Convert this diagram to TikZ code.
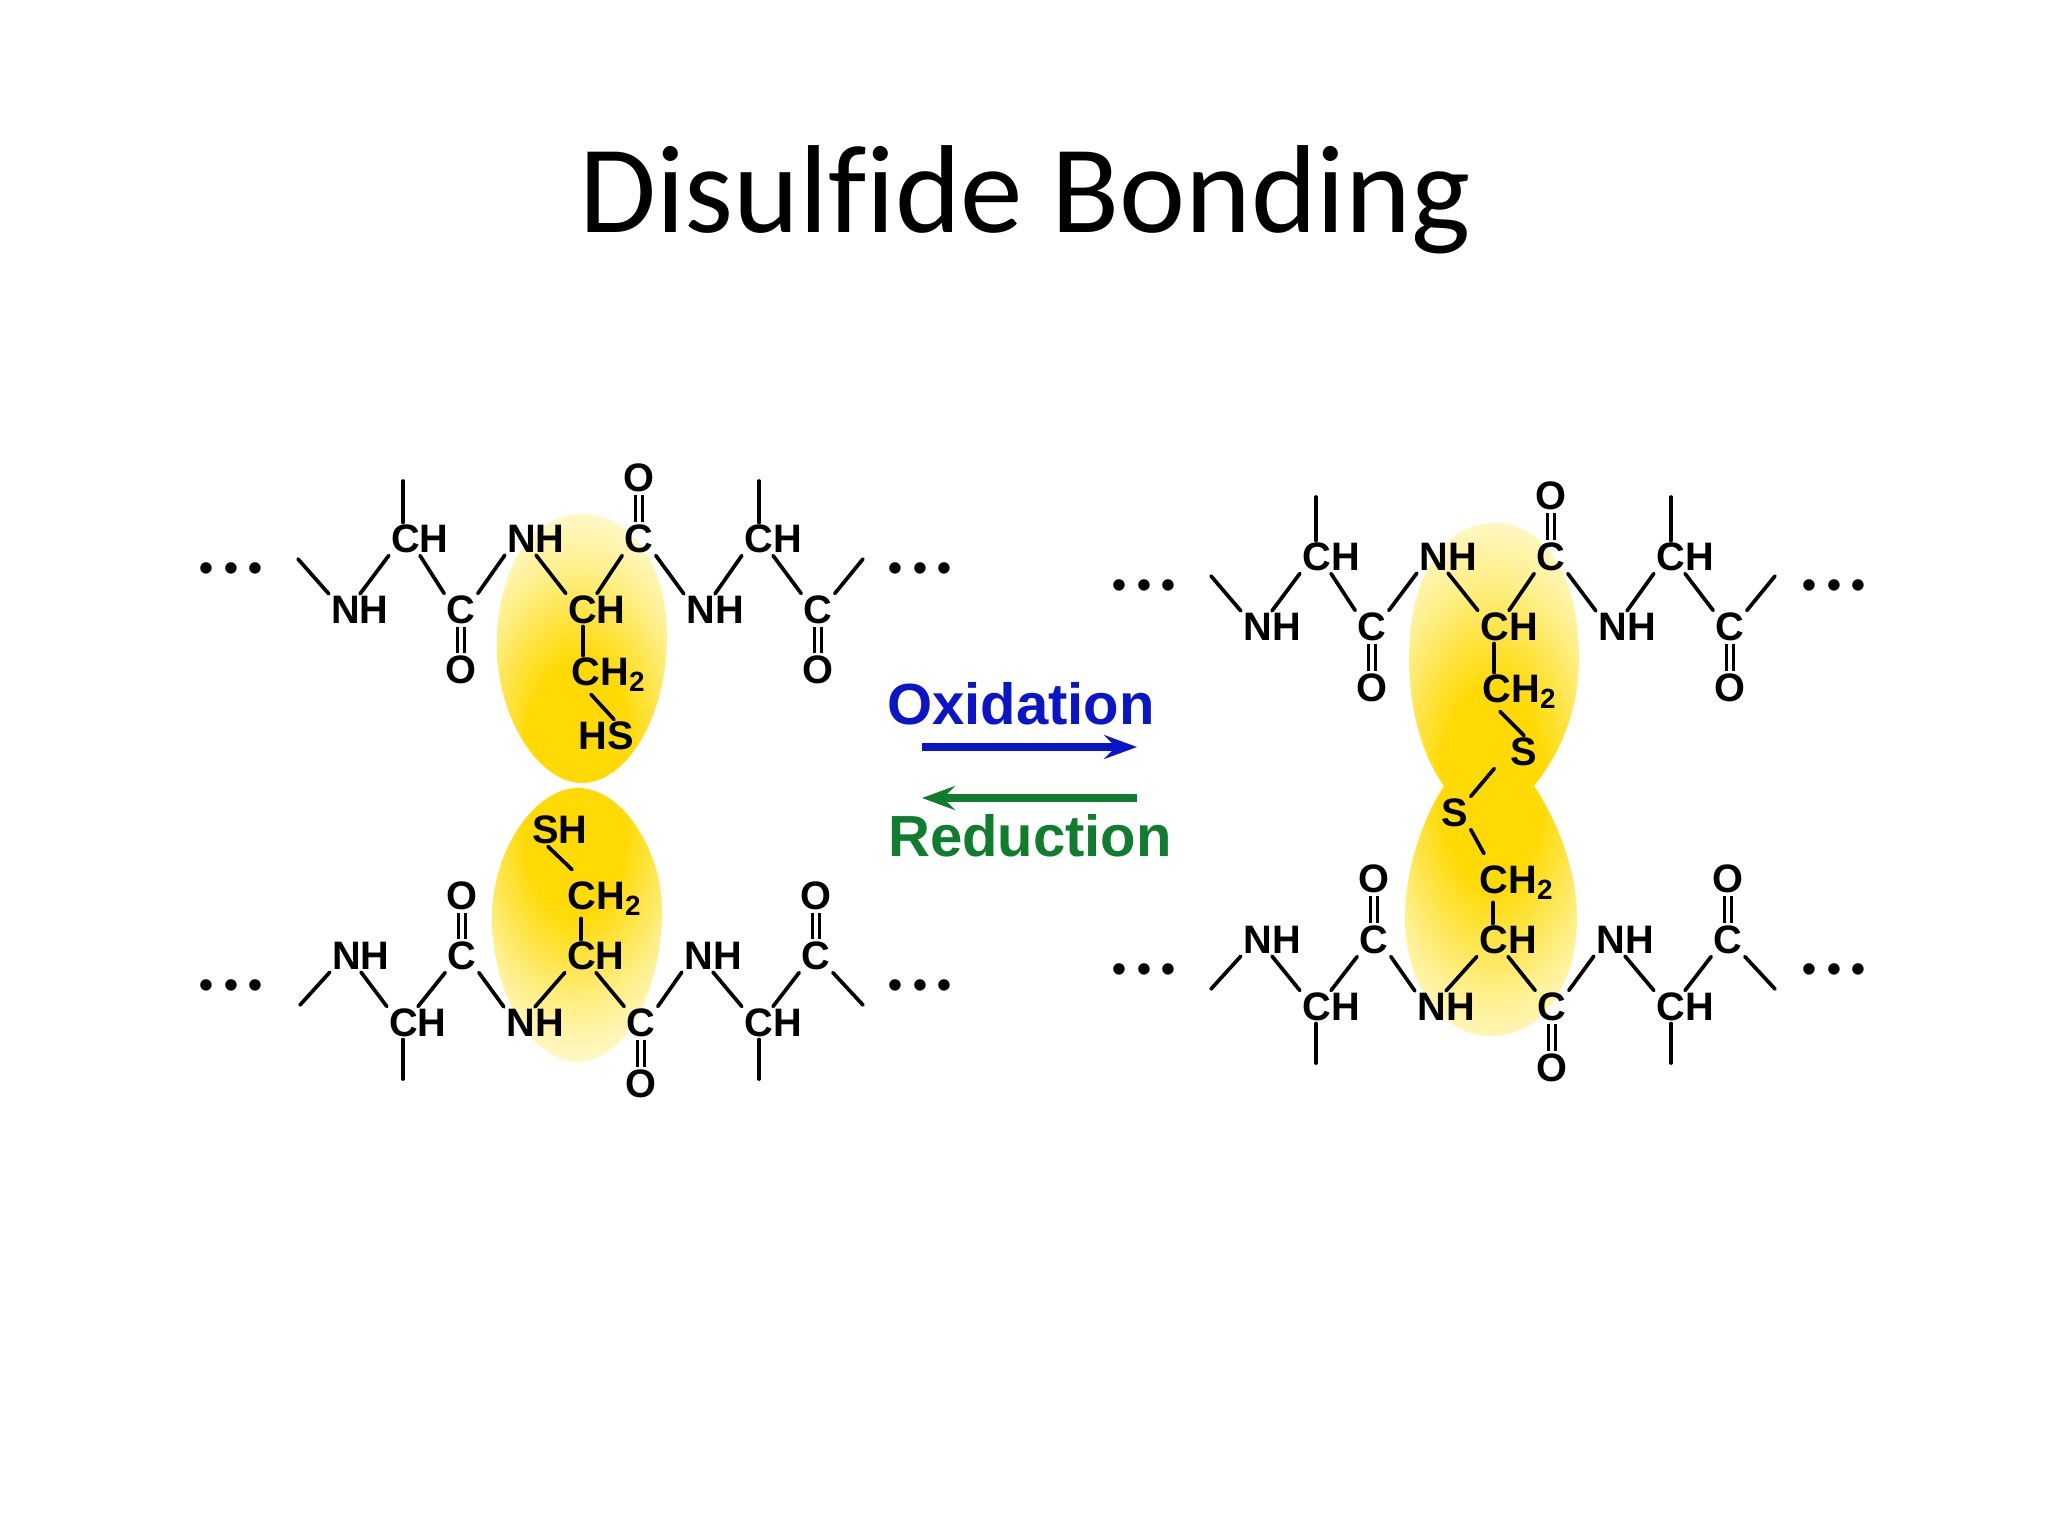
\documentclass[tikz,border=0pt]{standalone}
\usepackage{fontspec}
\setmainfont[RawFeature=-liga]{Carlito}
\newfontfamily\atomfont{Liberation Sans}
\usepackage{xcolor}
\usetikzlibrary{arrows.meta}

\definecolor{oxblue}{RGB}{10,20,200}
\definecolor{redgreen}{RGB}{15,125,45}
\definecolor{lobedeep}{RGB}{255,218,5}
\definecolor{lobemid}{RGB}{255,228,70}
\definecolor{lobelight}{RGB}{255,240,140}
\definecolor{lobepale}{RGB}{255,253,235}
\pgfdeclareradialshading{lobeglow}{\pgfpoint{0bp}{0bp}}{color(0bp)=(lobedeep); color(9bp)=(lobedeep); color(14bp)=(lobemid); color(19bp)=(lobelight); color(28bp)=(lobepale); color(50bp)=(lobepale)}
\newcommand{\chaindots}{\textbullet\hspace{.11cm}\textbullet\hspace{.11cm}\textbullet}
\tikzset{
	atom/.style={font=\atomfont\bfseries\fontsize{11.3}{12}\selectfont,inner sep=0.5pt},
	bond/.style={line width=1.05pt,line cap=round},
	dbl/.style={double,double distance=1.1pt,line width=0.95pt},
	label/.style={font=\atomfont\bfseries\fontsize{16.5}{18}\selectfont,inner sep=0pt}
}

\begin{document}
\begin{tikzpicture}[x=0.01cm,y=-0.01cm]
		\useasboundingbox (0,0) rectangle (2048,1536);
		\node[font=\fontsize{35.6}{38}\selectfont] (title) at (1025,200) {Disulfide Bonding};
		%
		\begin{scope}
		\clip (582,514) .. controls (530,514) and (497,570) .. (497,645) .. controls (497,720) and (540,783) .. (582,783) .. controls (625,783) and (667,720) .. (667,635) .. controls (667,570) and (635,514) .. (582,514);
		\path[shading=lobeglow] (578,745) ellipse (140 and 235);
		\end{scope}
		\begin{scope}
		\clip (578,788) .. controls (535,788) and (492,850) .. (492,918) .. controls (492,990) and (530,1062) .. (578,1062) .. controls (625,1062) and (662,990) .. (662,910) .. controls (662,850) and (622,788) .. (578,788);
		\path[shading=lobeglow] (575,830) ellipse (140 and 235);
		\end{scope}
		\begin{scope}
		\clip (1494,523) .. controls (1442,523) and (1409,580) .. (1409,657) .. controls (1409,710) and (1422,755) .. (1444,786) .. controls (1422,820) and (1405,870) .. (1405,918) .. controls (1405,985) and (1442,1036) .. (1491,1036) .. controls (1542,1036) and (1577,985) .. (1577,918) .. controls (1577,870) and (1557,820) .. (1534,786) .. controls (1562,750) and (1579,710) .. (1579,657) .. controls (1579,580) and (1547,523) .. (1494,523);
		\path[shading=lobeglow] (1492,786) ellipse (145 and 275);
		\end{scope}
		%
		\node[atom] (ULdl) at (231,572) {\chaindots};
		\node[atom] (ULdr) at (920,572) {\chaindots};
		\coordinate (ULs) at (298,559);
		\coordinate (ULe) at (863,559);
		\coordinate (ULt1) at (403,481);
		\coordinate (ULt2) at (759,481);
		\node[atom] (ULn1) at (360,610) {NH};
		\node[atom] (ULh1) at (420,539) {CH};
		\node[atom] (ULc1) at (461,610) {C};
		\node[atom] (ULo1) at (461,670) {O};
		\node[atom] (ULn2) at (536,539) {NH};
		\node[atom] (ULh2) at (597,610) {CH};
		\node[atom] (ULc2) at (639,539) {C};
		\node[atom] (ULo2) at (639,478) {O};
		\node[atom] (ULn3) at (715,610) {NH};
		\node[atom] (ULh3) at (773,539) {CH};
		\node[atom] (ULc3) at (818,610) {C};
		\node[atom] (ULo3) at (818,670) {O};
		\node[atom] (ULm) at (609,675) {CH\textsubscript{2}};
		\node[atom] (ULs1) at (606,736) {HS};
		%
		\path[bond]
		(ULs) edge (ULn1.north west)
		(ULn1.north) edge (ULh1.south west)
		(ULh1.south) edge (ULc1.north west)
		(ULc1.north east) edge (ULn2.south west)
		(ULn2.south) edge (ULh2.north west)
		(ULh2.north) edge (ULc2.south west)
		(ULc2.south east) edge (ULn3.north west)
		(ULn3.north) edge (ULh3.south west)
		(ULh3.south) edge (ULc3.north west)
		(ULc3.north east) edge (ULe)
		(ULt1) edge (ULt1 |- ULh1.north)
		(ULt2) edge (ULt2 |- ULh3.north)
		([xshift=-.14cm]ULh2.south) edge ([xshift=-.14cm]ULh2.south |- ULm.north)
		([xshift=-.18cm]ULm.south) edge ([xshift=.08cm]ULs1.north);
		\draw[dbl] (ULc1) -- (ULo1);
		\draw[dbl] (ULc2) -- (ULo2);
		\draw[dbl] (ULc3) -- (ULo3);
		%
		\node[atom] (LLdl) at (231,989) {\chaindots};
		\node[atom] (LLdr) at (920,989) {\chaindots};
		\coordinate (LLs) at (300,1005);
		\coordinate (LLe) at (863,1005);
		\coordinate (LLt1) at (403,1079);
		\coordinate (LLt2) at (759,1079);
		\node[atom] (LLn1) at (361,956) {NH};
		\node[atom] (LLh1) at (418,1023) {CH};
		\node[atom] (LLc1) at (462,956) {C};
		\node[atom] (LLo1) at (462,896) {O};
		\node[atom] (LLn2) at (535,1023) {NH};
		\node[atom] (LLh2) at (596,956) {CH};
		\node[atom] (LLc2) at (641,1023) {C};
		\node[atom] (LLo2) at (641,1084) {O};
		\node[atom] (LLn3) at (713,956) {NH};
		\node[atom] (LLh3) at (773,1023) {CH};
		\node[atom] (LLc3) at (816,956) {C};
		\node[atom] (LLo3) at (816,896) {O};
		\node[atom] (LLm) at (605,899) {CH\textsubscript{2}};
		\node[atom] (LLs1) at (560,830) {SH};
		%
		\path[bond]
		(LLs) edge (LLn1.south west)
		(LLn1.south) edge (LLh1.north west)
		(LLh1.north) edge (LLc1.south west)
		(LLc1.south east) edge (LLn2.north west)
		(LLn2.north) edge (LLh2.south west)
		(LLh2.south) edge (LLc2.north west)
		(LLc2.north east) edge (LLn3.south west)
		(LLn3.south) edge (LLh3.north west)
		(LLh3.north) edge (LLc3.south west)
		(LLc3.south east) edge (LLe)
		(LLt1) edge (LLt1 |- LLh1.south)
		(LLt2) edge (LLt2 |- LLh3.south)
		([xshift=-.15cm]LLh2.north) edge ([xshift=-.15cm]LLh2.north |- LLm.south)
		([xshift=-.12cm]LLs1.south) edge ([xshift=-.33cm,yshift=.1cm]LLm.north);
		\draw[dbl] (LLc1) -- (LLo1);
		\draw[dbl] (LLc2) -- (LLo2);
		\draw[dbl] (LLc3) -- (LLo3);
		%
		\node[atom] (URdl) at (1144,589) {\chaindots};
		\node[atom] (URdr) at (1834,589) {\chaindots};
		\coordinate (URs) at (1211,576);
		\coordinate (URe) at (1775,576);
		\coordinate (URt1) at (1316,497);
		\coordinate (URt2) at (1671,497);
		\node[atom] (URn1) at (1272,627) {NH};
		\node[atom] (URh1) at (1331,557) {CH};
		\node[atom] (URc1) at (1372,627) {C};
		\node[atom] (URo1) at (1372,688) {O};
		\node[atom] (URn2) at (1448,557) {NH};
		\node[atom] (URh2) at (1509,627) {CH};
		\node[atom] (URc2) at (1551,557) {C};
		\node[atom] (URo2) at (1551,496) {O};
		\node[atom] (URn3) at (1627,627) {NH};
		\node[atom] (URh3) at (1685,557) {CH};
		\node[atom] (URc3) at (1730,627) {C};
		\node[atom] (URo3) at (1730,688) {O};
		\node[atom] (URm) at (1520,692) {CH\textsubscript{2}};
		\node[atom] (URs1) at (1524,752) {S};
		%
		\path[bond]
		(URs) edge (URn1.north west)
		(URn1.north) edge (URh1.south west)
		(URh1.south) edge (URc1.north west)
		(URc1.north east) edge (URn2.south west)
		(URn2.south) edge (URh2.north west)
		(URh2.north) edge (URc2.south west)
		(URc2.south east) edge (URn3.north west)
		(URn3.north) edge (URh3.south west)
		(URh3.south) edge (URc3.north west)
		(URc3.north east) edge (URe)
		(URt1) edge (URt1 |- URh1.north)
		(URt2) edge (URt2 |- URh3.north)
		([xshift=-.15cm]URh2.south) edge ([xshift=-.15cm]URh2.south |- URm.north)
		([xshift=-.2cm]URm.south) edge (URs1.north);
		\draw[dbl] (URc1) -- (URo1);
		\draw[dbl] (URc2) -- (URo2);
		\draw[dbl] (URc3) -- (URo3);
		%
		\node[atom] (LRdl) at (1144,973) {\chaindots};
		\node[atom] (LRdr) at (1834,973) {\chaindots};
		\coordinate (LRs) at (1211,989);
		\coordinate (LRe) at (1775,989);
		\coordinate (LRt1) at (1316,1063);
		\coordinate (LRt2) at (1671,1063);
		\node[atom] (LRn1) at (1272,940) {NH};
		\node[atom] (LRh1) at (1331,1007) {CH};
		\node[atom] (LRc1) at (1374,940) {C};
		\node[atom] (LRo1) at (1374,879) {O};
		\node[atom] (LRn2) at (1446,1007) {NH};
		\node[atom] (LRh2) at (1508,940) {CH};
		\node[atom] (LRc2) at (1552,1007) {C};
		\node[atom] (LRo2) at (1552,1068) {O};
		\node[atom] (LRn3) at (1625,940) {NH};
		\node[atom] (LRh3) at (1685,1007) {CH};
		\node[atom] (LRc3) at (1728,940) {C};
		\node[atom] (LRo3) at (1728,879) {O};
		\node[atom] (LRm) at (1517,883) {CH\textsubscript{2}};
		\node[atom] (LRs1) at (1455,813) {S};
		%
		\path[bond]
		(LRs) edge (LRn1.south west)
		(LRn1.south) edge (LRh1.north west)
		(LRh1.north) edge (LRc1.south west)
		(LRc1.south east) edge (LRn2.north west)
		(LRn2.north) edge (LRh2.south west)
		(LRh2.south) edge (LRc2.north west)
		(LRc2.north east) edge (LRn3.south west)
		(LRn3.south) edge (LRh3.north west)
		(LRh3.north) edge (LRc3.south west)
		(LRc3.south east) edge (LRe)
		(LRt1) edge (LRt1 |- LRh1.south)
		(LRt2) edge (LRt2 |- LRh3.south)
		([xshift=-.15cm]LRh2.north) edge ([xshift=-.15cm]LRh2.north |- LRm.south)
		(LRs1.south east) edge ([xshift=-.33cm,yshift=.1cm]LRm.north)
		(LRs1.north east) edge ([xshift=-.14cm]URs1.south west);
		\draw[dbl] (LRc1) -- (LRo1);
		\draw[dbl] (LRc2) -- (LRo2);
		\draw[dbl] (LRc3) -- (LRo3);
		%
		\node[label,text=oxblue] (ox) at (1021,704) {Oxidation};
		\node[label,text=redgreen] (red) at (1030,836) {Reduction};
		\coordinate (oxs) at (922,747);
		\coordinate (oxe) at (1137,747);
		\coordinate (reds) at (1137,798);
		\coordinate (rede) at (922,798);
		\path[-{Stealth[length=.33cm,width=.24cm,inset=.12cm]},line width=2.4pt]
		(oxs) edge[draw=oxblue] (oxe)
		(reds) edge[draw=redgreen] (rede);
\end{tikzpicture}
\end{document}
